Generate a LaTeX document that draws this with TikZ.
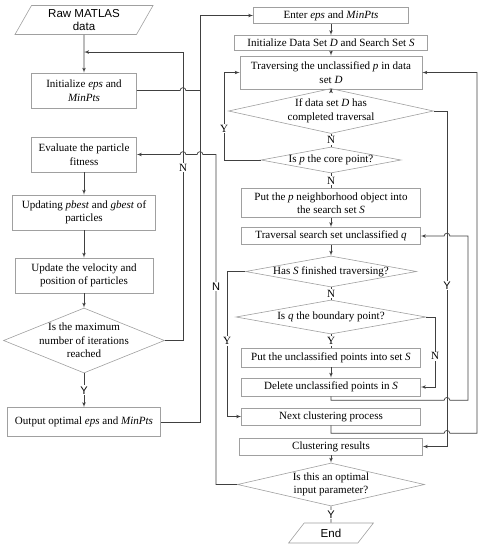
\documentclass[tikz,border=0pt]{standalone}
\usepackage{fontspec}
\setmainfont{Liberation Serif}
\setsansfont{Liberation Sans}
\usetikzlibrary{shapes, arrows, calc}

\definecolor{boxgray}{HTML}{A0A0A0}
\definecolor{wiregray}{HTML}{404040}

\begin{document}
\begin{tikzpicture}[
block/.style={rectangle, text centered, align=center, draw=boxgray, line width=0.6pt,
    font=\fontsize{11}{13.5}\selectfont, inner sep=1pt},
io/.style={trapezium, trapezium left angle=64, trapezium right angle=116,
    trapezium stretches=true, draw=boxgray, line width=0.6pt, align=center,
    font=\sffamily\fontsize{11.5}{13.5}\selectfont, inner sep=1pt},
decision/.style={diamond, draw=boxgray, line width=0.6pt, inner sep=0pt},
dtext/.style={align=center, font=\fontsize{11}{13.5}\selectfont},
line/.style={draw=wiregray, line width=0.7pt, -latex'},
wire/.style={draw=wiregray, line width=0.7pt},
lbl/.style={fill=white, inner sep=1pt, font=\fontsize{11}{13.5}\selectfont},
lbl-sf/.style={lbl, font=\sffamily\fontsize{11}{13.5}\selectfont}
]
\useasboundingbox (0,0) rectangle (16.975,-19.25);

% left column
\node [io, minimum width=4.865cm, minimum height=1.015cm] (raw) at (2.94,-0.7) {Raw MATLAS\\data};
\node [block, below of=raw, node distance=2.4675cm, minimum width=3.675cm, minimum height=1.225cm] (init-eps) {Initialize \textit{eps} and\\\textit{MinPts}};
\node [block, below of=init-eps, node distance=2.24cm, minimum width=3.675cm, minimum height=1.225cm] (eval-fit) {Evaluate the particle\\fitness};
\node [block, below of=eval-fit, node distance=2.03cm, minimum width=5.005cm, minimum height=1.225cm] (upd-best) {Updating \textit{pbest} and \textit{gbest} of\\particles};
\node [block, below of=upd-best, node distance=2.205cm, minimum width=4.83cm, minimum height=1.225cm] (upd-vel) {Update the velocity and\\position of particles};
\node [decision, below of=upd-vel, node distance=2.275cm, minimum width=5.635cm, minimum height=2.275cm,
    label={[dtext]center:Is the maximum\\number of iterations\\reached}] (max-iter) {};
\node [block, below of=max-iter, node distance=2.8525cm, minimum width=5.355cm, minimum height=1.015cm] (out-opt) {Output optimal \textit{eps} and \textit{MinPts}};

% right column
\node [block, minimum width=5.425cm, minimum height=0.56cm] (enter) at (11.585,-0.5425) {Enter \textit{eps} and \textit{MinPts}};
\node [block, below of=enter, node distance=0.9625cm, minimum width=6.755cm, minimum height=0.525cm] (init-set) {Initialize Data Set \textit{D} and Search Set \textit{S}};
\node [block, below of=init-set, node distance=1.0325cm, minimum width=6.37cm, minimum height=1.155cm] (trav-d) {Traversing the unclassified \textit{p} in data\\set \textit{D}};
\node [decision, below of=trav-d, node distance=1.3475cm, minimum width=7.175cm, minimum height=1.575cm,
    label={[dtext]center:If data set \textit{D} has\\completed traversal}] (if-done) {};
\node [decision, below of=if-done, node distance=1.715cm, minimum width=4.9cm, minimum height=0.91cm,
    label={[dtext]center:Is \textit{p} the core point?}] (is-core) {};
\node [block, below of=is-core, node distance=1.505cm, minimum width=6.265cm, minimum height=1.015cm] (put-p) {Put the \textit{p} neighborhood object into\\the search set \textit{S}};
\node [block, below of=put-p, node distance=1.155cm, minimum width=6.265cm, minimum height=0.595cm] (trav-q) {Traversal search set unclassified \textit{q}};
\node [decision, below of=trav-q, node distance=1.2425cm, minimum width=5.985cm, minimum height=1.085cm,
    label={[dtext]center:Has \textit{S} finished traversing?}] (has-s) {};
\node [decision, below of=has-s, node distance=1.5925cm, minimum width=6.65cm, minimum height=1.19cm,
    label={[dtext]center:Is \textit{q} the boundary point?}] (is-bnd) {};
\node [block, below of=is-bnd, node distance=1.4175cm, minimum width=6.265cm, minimum height=0.665cm] (put-u) {Put the unclassified points into set \textit{S}};
\node [block, below of=put-u, node distance=1.0325cm, minimum width=6.265cm, minimum height=0.63cm] (del-u) {Delete unclassified points in \textit{S}};
\node [block, below of=del-u, node distance=1.0325cm, minimum width=6.265cm, minimum height=0.595cm] (next-cl) {Next clustering process};
\node [block, below of=next-cl, node distance=1.05cm, minimum width=6.405cm, minimum height=0.595cm] (cl-res) {Clustering results};
\node [decision, below of=cl-res, node distance=1.33cm, minimum width=6.545cm, minimum height=1.505cm,
    label={[dtext]center:Is this an optimal\\input parameter?}] (is-opt) {};
\node [io, below of=is-opt, node distance=1.6975cm, minimum width=2.975cm, minimum height=0.7cm,
    trapezium left angle=58, trapezium right angle=122] (end) {End};

% vertical buses
\coordinate (bus-n) at (6.405,0);
\coordinate (bus-o) at (7.0,0);
\coordinate (bus-e) at (7.56,0);
\coordinate (bus-y) at (7.84,0);
\coordinate (bus-y2) at (7.945,0);
\coordinate (bus-nb) at (15.225,0);
\coordinate (bus-r1) at (15.645,0);
\coordinate (bus-r2) at (16.38,0);
\coordinate (bus-r3) at (16.695,0);
\coordinate (n-in) at ($(raw.south)!0.455!(init-eps.north)$);
\coordinate (del-out) at ($(del-u.south)+(0,-0.14)$);
\coordinate (next-out) at ($(next-cl.south)+(0,-0.28)$);

% left column flow
\path [line] (raw) -- (init-eps);
\path [line] (eval-fit) -- (upd-best);
\path [line] (upd-best) -- (upd-vel);
\path [line] (upd-vel) -- (max-iter);
\path [line] (max-iter) -- node [lbl-sf] {Y} (out-opt);
\path [line] (max-iter.east) -| node [lbl, pos=0.8] {N} (bus-n |- n-in) -- (n-in);
\path [wire] (init-eps.east) -- ($(bus-n |- init-eps.east)+(-0.1,0)$)
    arc [start angle=180, end angle=0, radius=0.1] -- (bus-o |- init-eps.east);
\path [line] (out-opt.east) -| (bus-o |- enter) -- (enter.west);
\path [line] (is-opt.west) -| node [lbl-sf, pos=0.8] {N} (bus-e |- eval-fit)
    -- ($(bus-o |- eval-fit)+(0.1,0)$) arc [start angle=0, end angle=180, radius=0.1]
    -- ($(bus-n |- eval-fit)+(0.1,0)$) arc [start angle=0, end angle=180, radius=0.1]
    -- (eval-fit.east);

% right column flow
\path [line] (enter) -- (init-set);
\path [line] (init-set) -- (trav-d);
\path [line] (trav-d) -- (if-done);
\path [wire] (if-done) -- node [lbl] {N} (is-core);
\path [wire] (is-core) -- node [lbl] {N} (put-p);
\path [line] (is-core.west) -| node [lbl, pos=0.68] {Y} (bus-y |- trav-d) -- (trav-d.west);
\path [line] (put-p) -- (trav-q);
\path [line] (trav-q) -- (has-s);
\path [wire] (has-s) -- node [lbl] {N} (is-bnd);
\path [line] (has-s.west) -| node [lbl, pos=0.74] {Y} (bus-y2 |- next-cl) -- (next-cl.west);
\path [wire] (is-bnd) -- node [lbl] {Y} (put-u);
\path [line] (is-bnd.east) -| node [lbl, pos=0.78] {N} (bus-nb |- del-u) -- (del-u.east);
\path [line] (put-u) -- (del-u);
\path [line] (if-done.east) -| node [lbl-sf, pos=0.76] {Y} (bus-r1 |- cl-res) -- (cl-res.east);
\path [line] (del-u.south) -- (del-out) -- ($(bus-r1 |- del-out)+(-0.1,0)$)
    arc [start angle=180, end angle=0, radius=0.1] -- (bus-r2 |- del-out) -- (bus-r2 |- trav-q)
    -- ($(bus-r1 |- trav-q)+(0.1,0)$) arc [start angle=0, end angle=180, radius=0.1] -- (trav-q.east);
\path [line] (next-cl.south) -- (next-out) -- ($(bus-r1 |- next-out)+(-0.1,0)$)
    arc [start angle=180, end angle=0, radius=0.1] -- (bus-r3 |- next-out) -- (bus-r3 |- trav-d) -- (trav-d.east);
\path [line] (cl-res) -- (is-opt);
\path [wire] (is-opt) -- node [lbl-sf] {Y} (end);

\end{tikzpicture}
\end{document}
